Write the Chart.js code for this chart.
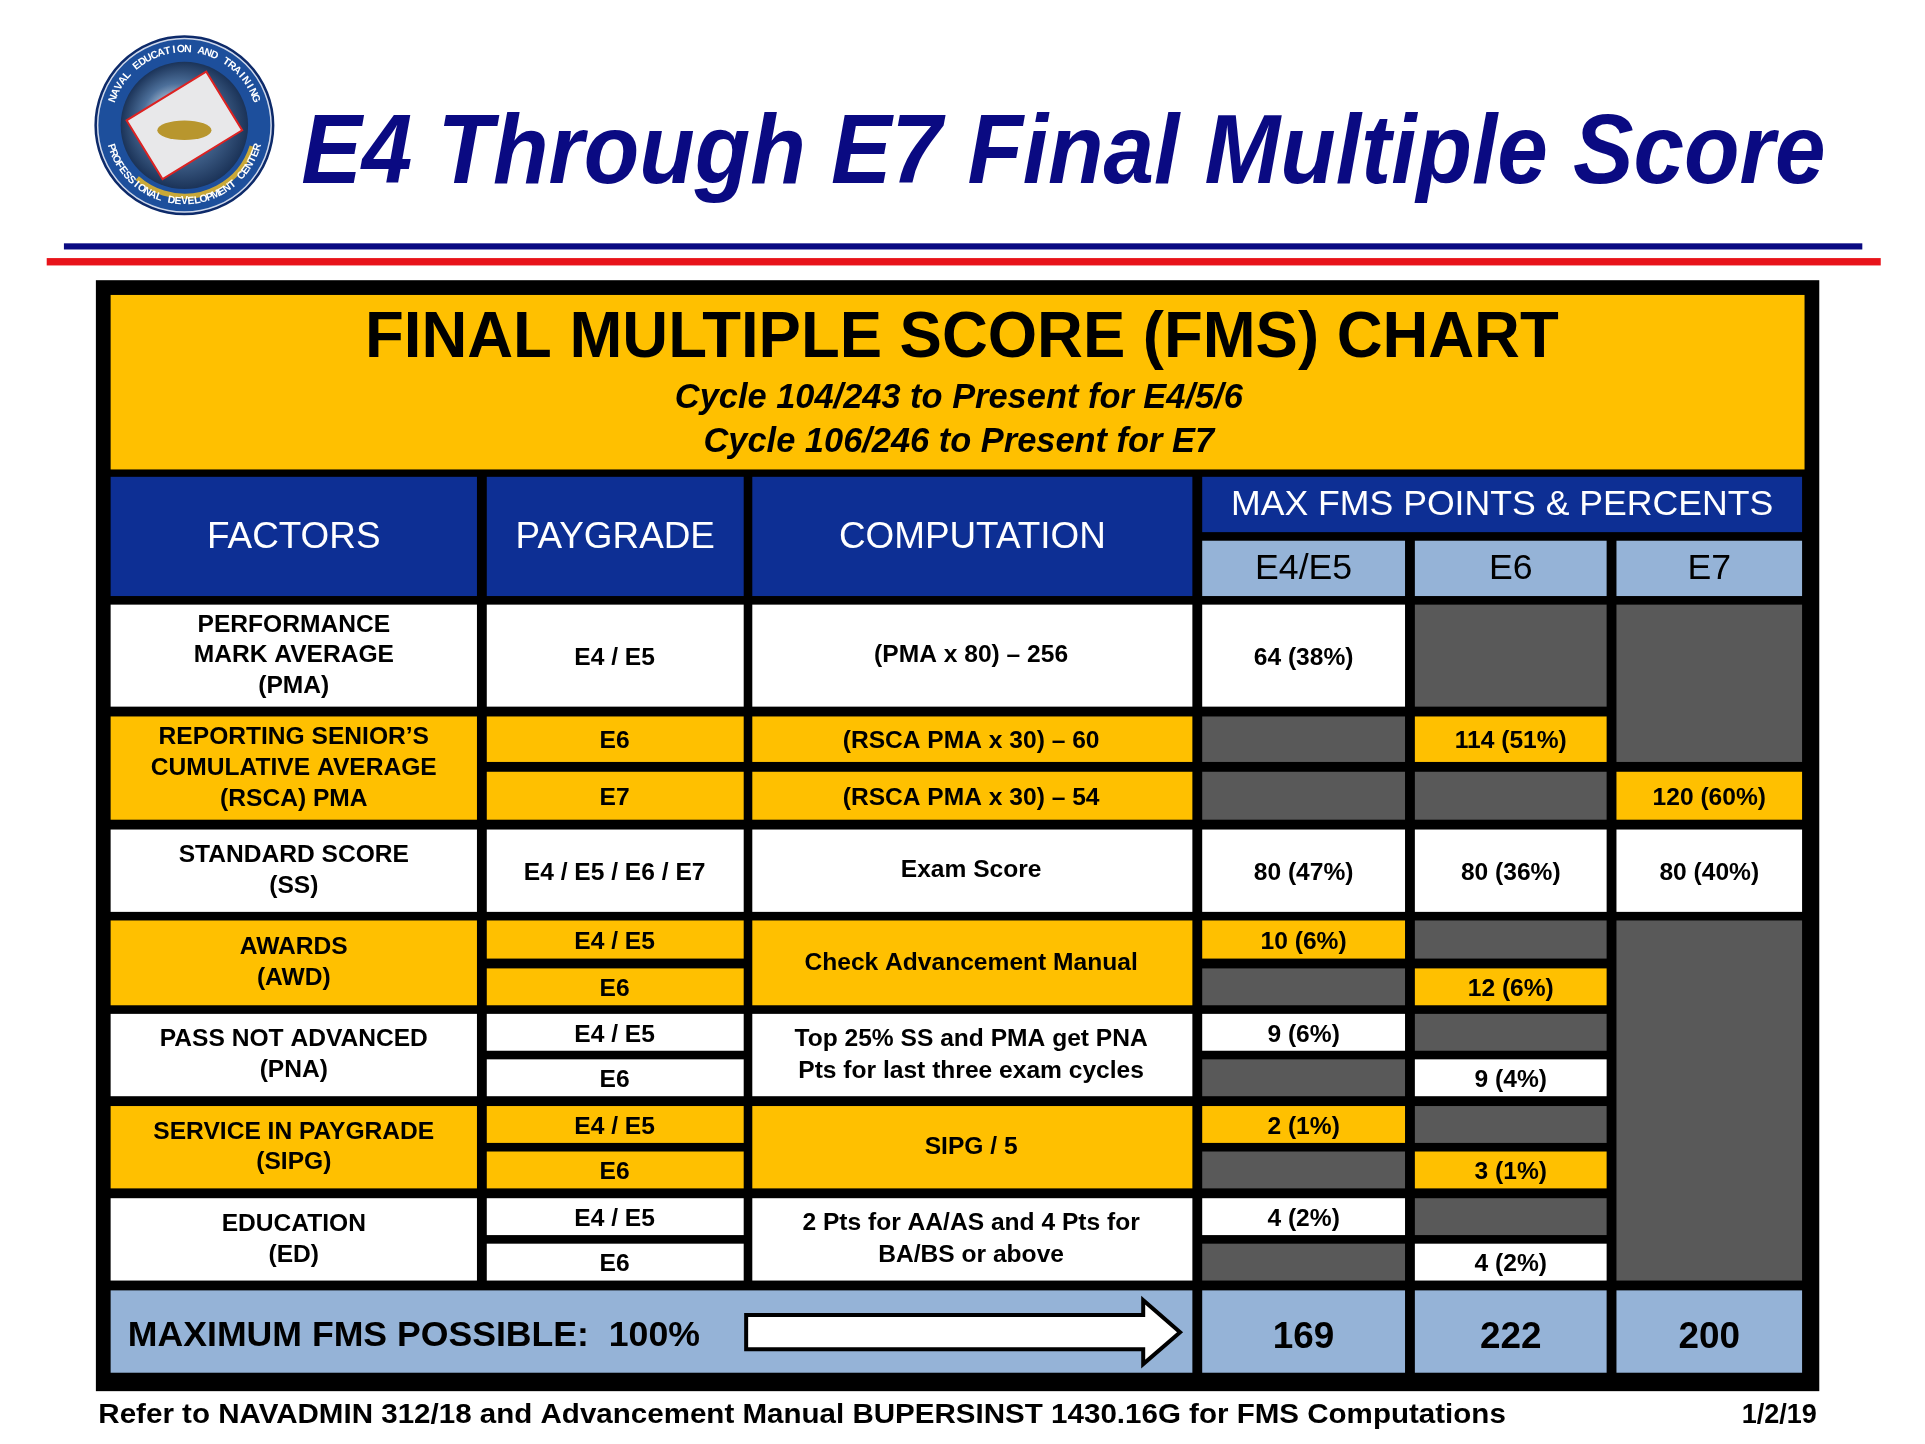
<!DOCTYPE html>
<html><head><meta charset="utf-8">
<script src="https://cdn.jsdelivr.net/npm/chart.js@4.4.1/dist/chart.umd.min.js"></script>
<style>html,body{margin:0;padding:0;background:#fff}canvas{display:block}</style>
</head><body><canvas id="c" width="1925" height="1444"></canvas>
<script>
// ---- data ----
const pageTitle = "E4 Through E7 Final Multiple Score";
const chartTitle = "FINAL MULTIPLE SCORE (FMS) CHART";
const subTitles = ["Cycle 104/243 to Present for E4/5/6", "Cycle 106/246 to Present for E7"];
const headers = ["FACTORS", "PAYGRADE", "COMPUTATION"];
const maxHeader = "MAX FMS POINTS & PERCENTS";
const gradeCols = ["E4/E5", "E6", "E7"];
const factors = ["PERFORMANCE\nMARK AVERAGE\n(PMA)", "REPORTING SENIOR\u2019S\nCUMULATIVE AVERAGE\n(RSCA) PMA", "STANDARD SCORE\n(SS)", "AWARDS\n(AWD)", "PASS NOT ADVANCED\n(PNA)", "SERVICE IN PAYGRADE\n(SIPG)", "EDUCATION\n(ED)"];
const computations = ["(PMA x 80) \u2013 256", null, "Exam Score", "Check Advancement Manual", "Top 25% SS and PMA get PNA\nPts for last three exam cycles", "SIPG / 5", "2 Pts for AA/AS and 4 Pts for\nBA/BS or above"];
const rsacComputations = ["(RSCA PMA x 30) \u2013 60", "(RSCA PMA x 30) \u2013 54"];
const paygrades = ["E4 / E5", "E6", "E7", "E4 / E5 / E6 / E7", "E4 / E5", "E6", "E4 / E5", "E6", "E4 / E5", "E6", "E4 / E5", "E6"];
const valuesE45 = ["64 (38%)", null, null, "80 (47%)", "10 (6%)", null, "9 (6%)", null, "2 (1%)", null, "4 (2%)", null];
const valuesE6 = [null, "114 (51%)", null, "80 (36%)", null, "12 (6%)", null, "9 (4%)", null, "3 (1%)", null, "4 (2%)"];
const valuesE7 = [null, null, "120 (60%)", "80 (40%)", null, null, null, null, null, null, null, null];
const totalLabel = "MAXIMUM FMS POSSIBLE:  100%";
const totals = ["169", "222", "200"];
const footNote = "Refer to NAVADMIN 312/18 and Advancement Manual BUPERSINST 1430.16G for FMS Computations";
const dateNote = "1/2/19";

// ---- layout (in scale units) ----
const groupRows = [[0],[1,2],[3],[4,5],[6,7],[8,9],[10,11]];
const groupColor = ["#ffffff","#ffc000","#ffffff","#ffc000","#ffffff","#ffc000","#ffffff"];
const rowsY = [[492,575],[583,620],[628,667],[675,742],[749,780],[788,818],[825,855],[862,892],[900,930],[937,967],[975,1005],[1012,1042]];
const colX = [[90,388],[396,605],[612,970],[978,1143],[1151,1307],[1315,1466]];
const XMAX = 1566, YMAX = 1175;
const S = 1925/XMAX;
const YEL="#ffc000", NAVY="#0d2f94", GRAY="#595959", LB="#95b3d7";
const F = "'Liberation Sans', Arial, sans-serif";

const tablePlugin = {
  id:'table',
  afterDraw(chart){
    const ctx = chart.ctx, xs = chart.scales.x, ys = chart.scales.y;
    const X = v=>xs.getPixelForValue(v), Y = v=>ys.getPixelForValue(v);
    const rect=(x0,y0,x1,y1,c)=>{ctx.fillStyle=c;ctx.fillRect(X(x0),Y(y0),X(x1)-X(x0),Y(y1)-Y(y0));};
    const text=(s,cx,cy,size,color,weight,style,align,lh)=>{
      ctx.fillStyle=color;ctx.font=`${style||'normal'} ${weight||'bold'} ${size*S}px ${F}`;
      ctx.textAlign=align||'center';ctx.textBaseline='middle';
      const lines=s.split('\n');const h=(lh||size*1.25);
      lines.forEach((l,i)=>ctx.fillText(l,X(cx),Y(cy+(i-(lines.length-1)/2)*h)));
    };
    const fitText=(s,x0,x1,cy,size,color,style)=>{
      ctx.font=`${style||'normal'} bold ${size*S}px ${F}`;ctx.fillStyle=color;ctx.textAlign='left';ctx.textBaseline='middle';
      const w=ctx.measureText(s).width, target=X(x1)-X(x0);
      ctx.save();ctx.translate(X(x0),Y(cy));ctx.scale(target/w,1);ctx.fillText(s,0,0);ctx.restore();
    };
    ctx.save();
    // logo
    const lx=X(150), ly=Y(102), r=72*S;
    ctx.beginPath();ctx.arc(lx,ly,r,0,Math.PI*2);ctx.fillStyle="#1d4f9c";ctx.fill();
    ctx.lineWidth=3;ctx.strokeStyle="#0d2a6a";ctx.stroke();
    ctx.beginPath();ctx.arc(lx,ly,r*0.98,0,Math.PI*2);ctx.strokeStyle="#cfd8ea";ctx.lineWidth=1.5;ctx.stroke();
    const g=ctx.createRadialGradient(lx-15,ly-15,5,lx,ly,r*0.72);
    g.addColorStop(0,"#c9d6e6");g.addColorStop(0.5,"#4c6f9a");g.addColorStop(1,"#1b3358");
    ctx.beginPath();ctx.arc(lx,ly,r*0.72,0,Math.PI*2);ctx.fillStyle=g;ctx.fill();
    ctx.save();ctx.translate(lx,ly);ctx.rotate(-0.55);
    ctx.fillStyle="#e8e8ea";ctx.strokeStyle="#d22";ctx.lineWidth=2;
    ctx.fillRect(-38*S,-28*S,76*S,56*S);ctx.strokeRect(-38*S,-28*S,76*S,56*S);ctx.restore();
    ctx.beginPath();ctx.ellipse(lx,ly+4*S,22*S,8*S,0,0,Math.PI*2);ctx.fillStyle="#b8962e";ctx.fill();
    ctx.beginPath();ctx.arc(lx,ly,r*0.8,0.3,2.3);ctx.strokeStyle="#c9a838";ctx.lineWidth=5;ctx.stroke();
    const arcText=(s,start,end,outer)=>{
      ctx.font=`bold ${8.5*S}px ${F}`;ctx.fillStyle="#fff";ctx.textAlign='center';ctx.textBaseline='middle';
      const n=s.length;for(let i=0;i<n;i++){const a=start+(end-start)*(i+0.5)/n;
        ctx.save();ctx.translate(lx+Math.cos(a)*r*0.86,ly+Math.sin(a)*r*0.86);
        ctx.rotate(outer?a+Math.PI/2:a-Math.PI/2);ctx.fillText(s[i],0,0);ctx.restore();}
    };
    arcText("NAVAL EDUCATION AND TRAINING",Math.PI*1.1,Math.PI*1.9,true);
    arcText("PROFESSIONAL DEVELOPMENT CENTER",Math.PI*0.92,Math.PI*0.08,false);
    // page title
    fitText(pageTitle,245,1485,127,80,"#0a0a82","italic");
    rect(52,198,1515,203,"#0a0a82");
    rect(38,210,1530,216,"#e8141b");
    // table frame
    rect(78,228,1480,1132,"#000");
    rect(90,240,1468,382,YEL);
    fitText(chartTitle,297,1268,276,52,"#000");
    text(subTitles[0],780,324,28,"#000","bold","italic");
    text(subTitles[1],780,360,28,"#000","bold","italic");
    // header
    for(let i=0;i<3;i++){rect(colX[i][0],388,colX[i][1],485,NAVY);text(headers[i],(colX[i][0]+colX[i][1])/2,438,30,"#fff","normal");}
    rect(978,388,1466,433,NAVY);text(maxHeader,1222,411,29,"#fff","normal");
    for(let i=0;i<3;i++){const c=colX[3+i];rect(c[0],440,c[1],485,LB);text(gradeCols[i],(c[0]+c[1])/2,463,29,"#000","normal");}
    // body
    groupRows.forEach((rows,gi)=>{
      const y0=rowsY[rows[0]][0], y1=rowsY[rows[rows.length-1]][1], col=groupColor[gi];
      rect(colX[0][0],y0,colX[0][1],y1,col);text(factors[gi],239,(y0+y1)/2,20,"#000","bold",null,null,25);
      if(computations[gi]){rect(colX[2][0],y0,colX[2][1],y1,col);text(computations[gi],790,(y0+y1)/2,20,"#000","bold",null,null,26);}
      rows.forEach((ri,k)=>{
        const [a,b]=rowsY[ri];
        rect(colX[1][0],a,colX[1][1],b,col);text(paygrades[ri],500,(a+b)/2+2,20,"#000","bold");
        if(!computations[gi]){rect(colX[2][0],a,colX[2][1],b,col);text(rsacComputations[k],790,(a+b)/2+2,20,"#000","bold");}
        [valuesE45,valuesE6].forEach((vals,ci)=>{const c=colX[3+ci];
          if(vals[ri]){rect(c[0],a,c[1],b,col);text(vals[ri],(c[0]+c[1])/2,(a+b)/2+2,20,"#000","bold");}
          else rect(c[0],a,c[1],b,GRAY);});
      });
    });
    // E7 column (merged gray)
    const c7=colX[5];let ri=0;
    while(ri<12){
      if(valuesE7[ri]){const [a,b]=rowsY[ri];const gi=groupRows.findIndex(g=>g.includes(ri));
        rect(c7[0],a,c7[1],b,groupColor[gi]);text(valuesE7[ri],(c7[0]+c7[1])/2,(a+b)/2+2,20,"#000","bold");ri++;}
      else{let e=ri;while(e+1<12&&!valuesE7[e+1])e++;rect(c7[0],rowsY[ri][0],c7[1],rowsY[e][1],GRAY);ri=e+1;}
    }
    // totals row
    rect(90,1050,970,1117,LB);
    text(totalLabel,104,1087,29,"#000","bold",null,"left");
    ctx.beginPath();
    [[607,1070],[930,1070],[930,1058],[960,1084],[930,1110],[930,1098],[607,1098]].forEach((p,i)=>i?ctx.lineTo(X(p[0]),Y(p[1])):ctx.moveTo(X(p[0]),Y(p[1])));
    ctx.closePath();ctx.fillStyle="#fff";ctx.fill();ctx.lineWidth=4;ctx.strokeStyle="#000";ctx.stroke();
    for(let i=0;i<3;i++){const c=colX[3+i];rect(c[0],1050,c[1],1117,LB);text(totals[i],(c[0]+c[1])/2,1089,30,"#000","bold");}
    // footnote
    fitText(footNote,80,1225,1152,22,"#000");
    text(dateNote,1478,1152,22,"#000","bold",null,"right");
    ctx.restore();
  }
};

new Chart(document.getElementById('c'),{
  type:'scatter',
  data:{datasets:[{data:[]}]},
  options:{responsive:false,devicePixelRatio:1,animation:false,
    layout:{padding:0},
    plugins:{legend:{display:false},tooltip:{enabled:false}},
    scales:{x:{type:'linear',min:0,max:XMAX,display:false},y:{type:'linear',min:0,max:YMAX,reverse:true,display:false}}},
  plugins:[tablePlugin]
});
</script></body></html>
